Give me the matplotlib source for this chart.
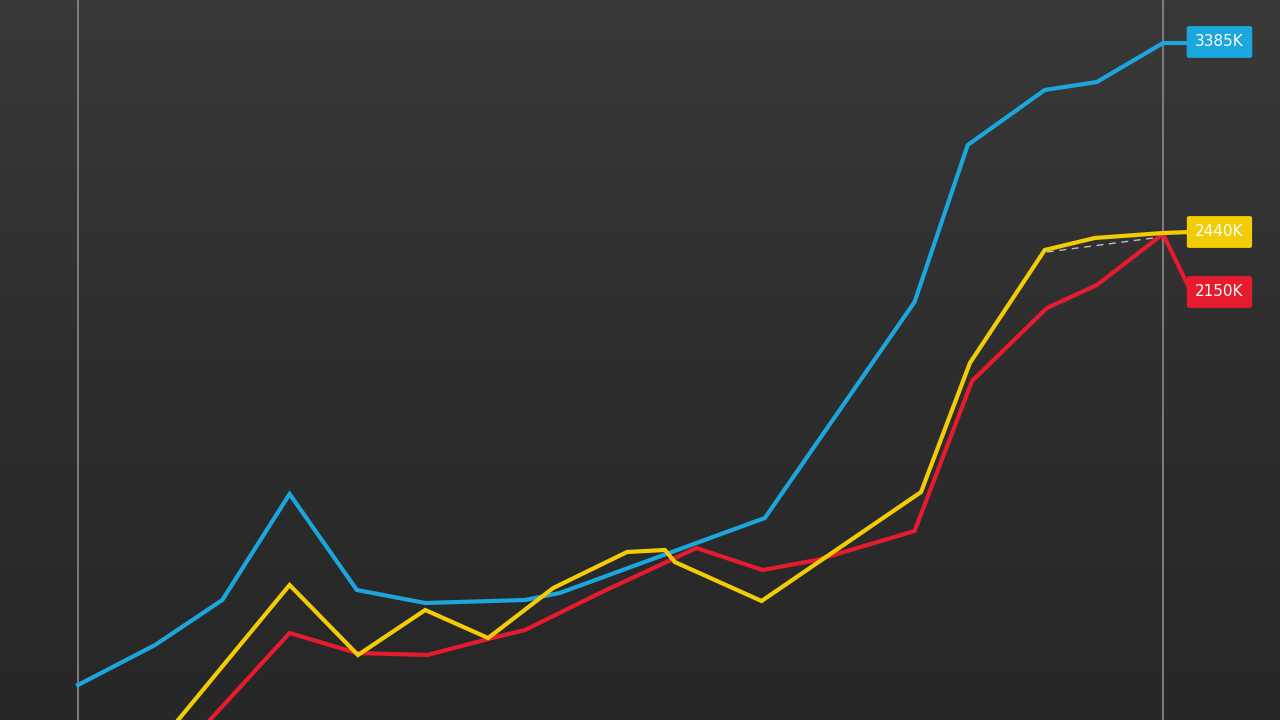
import numpy as np
import matplotlib
matplotlib.use('Agg')
import matplotlib.pyplot as plt

# x positions (0 = left marker line, 100 = right marker line), values on a 0-360 scale
blue_x = [0, 7.1, 13.3, 19.5, 25.7, 32.0, 41.2, 44.4, 63.3, 77.1, 82.0, 89.1, 93.9, 100, 102.5]
blue_y = [17.5, 37.5, 60, 113, 65, 58.5, 60, 63.5, 101, 209, 287.5, 315, 319, 338.5, 338.5]

yellow_x = [7.1, 19.5, 25.8, 32.0, 37.8, 43.8, 50.6, 54.1, 55.0, 63.0, 77.7, 82.2, 89.1, 93.7, 100, 102.5]
yellow_y = [-14, 67.5, 32.5, 55, 41, 66, 84, 85, 79, 59.5, 114, 178.5, 235, 241, 243.5, 244]

red_x = [7.1, 19.5, 25.7, 32.2, 37.8, 41.2, 48.1, 57.0, 63.1, 68.1, 77.1, 82.4, 89.3, 93.9, 100, 102.5]
red_y = [-30, 43.5, 33.5, 32.5, 40.5, 45, 63.5, 86, 75, 80, 94.5, 169.5, 206, 217.5, 243, 215]

dash_x = [89.3, 99.8]
dash_y = [234, 241.5]

markers_x = [0, 100]

labels = ['3385K', '2440K', '2150K']
label_y = [339, 244, 214]
colors = ['#1ba6de', '#f2cd06', '#e61b2e']

fig = plt.figure(figsize=(12.8, 7.2), dpi=100)
ax = fig.add_axes([0, 0, 1, 1])
xmin, xmax = -7.19, 110.78
ymin, ymax = 0, 360
ax.set_xlim(xmin, xmax)
ax.set_ylim(ymin, ymax)

# background gradient
grad = np.linspace(0, 1, 256).reshape(-1, 1)
cmap = matplotlib.colors.LinearSegmentedColormap.from_list('bg', ['#272727', '#2e2e2e', '#393939'])
ax.imshow(grad, aspect='auto', cmap=cmap, extent=(xmin, xmax, ymin, ymax), origin='lower', zorder=0)

for mx in markers_x:
    ax.axvline(mx, color='#8a8a8a', lw=1.2, zorder=1)

ax.plot(blue_x, blue_y, color=colors[0], lw=3, solid_joinstyle='miter', zorder=3)
ax.plot(yellow_x, yellow_y, color=colors[1], lw=3, solid_joinstyle='miter', zorder=4)
ax.plot(red_x, red_y, color=colors[2], lw=3, solid_joinstyle='miter', zorder=3)
ax.plot(dash_x, dash_y, color='#bdbdbd', lw=1, ls=(0, (5, 4)), zorder=2)

for text, yv, c in zip(labels, label_y, colors):
    ax.text(105.2, yv, text, color='white', fontsize=11, ha='center', va='center',
            family=['Liberation Sans Narrow', 'DejaVu Sans'], zorder=6,
            bbox=dict(boxstyle='round,pad=0.55,rounding_size=0.15', fc=c, ec='none'))

ax.axis('off')
fig.savefig('out.png', dpi=100)
